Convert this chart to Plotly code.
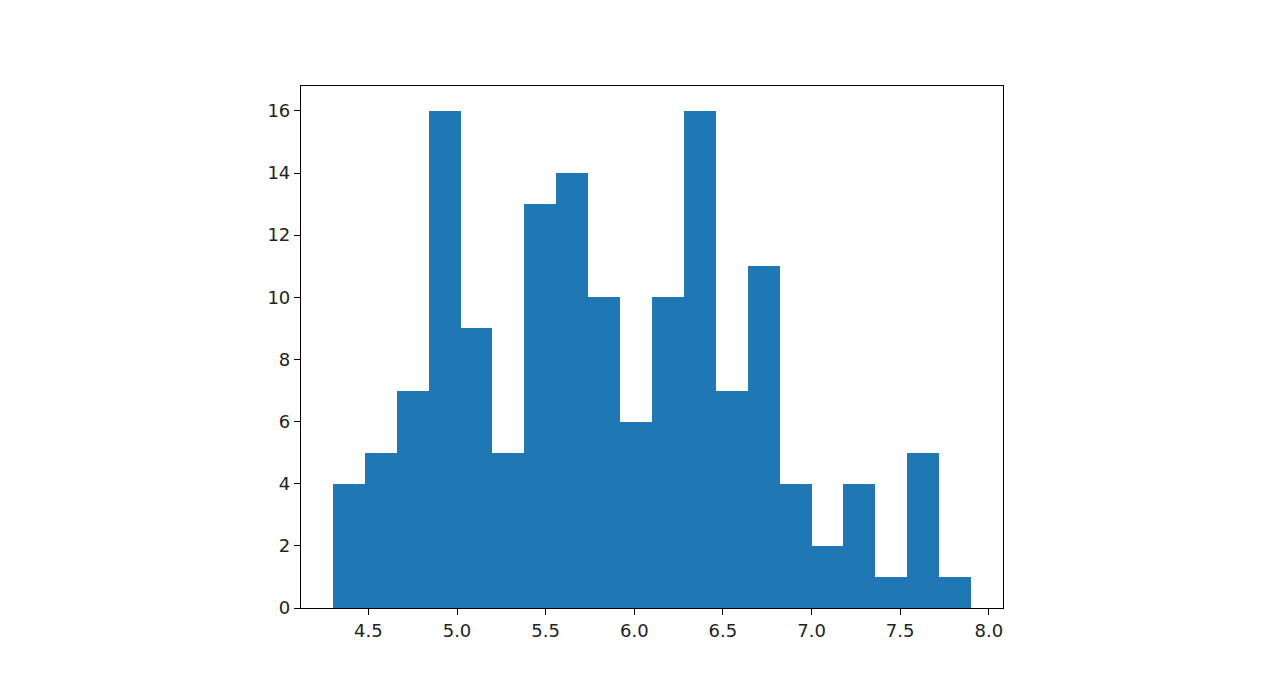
import numpy as np
import plotly.graph_objects as go

counts = [4, 5, 7, 16, 9, 5, 13, 14, 10, 6, 10, 16, 7, 11, 4, 2, 4, 1, 5, 1]
data_min = 4.3
data_max = 7.9
x_ticks = [4.5, 5.0, 5.5, 6.0, 6.5, 7.0, 7.5, 8.0]
y_ticks = [0, 2, 4, 6, 8, 10, 12, 14, 16]

n = len(counts)
edges = np.linspace(data_min, data_max, n + 1)
centers = (edges[:-1] + edges[1:]) / 2
width = edges[1] - edges[0]

fig = go.Figure(go.Bar(x=centers, y=counts, width=width,
                       marker=dict(color="#1f77b4", line=dict(width=0))))

span = data_max - data_min
axis_common = dict(showgrid=False, zeroline=False, showline=True, linecolor="black",
                   linewidth=1.2, mirror=True, ticks="outside", ticklen=6, tickwidth=1.2,
                   tickcolor="black", tickfont=dict(family="DejaVu Sans", size=18, color="#222"))
fig.update_layout(
    width=1281, height=681,
    margin=dict(l=293, r=286, t=78, b=81),
    plot_bgcolor="white", paper_bgcolor="white",
    bargap=0, showlegend=False,
    xaxis=dict(range=[data_min - 0.05 * span, data_max + 0.05 * span],
               tickvals=x_ticks, ticktext=[f"{v:.1f}" for v in x_ticks], **axis_common),
    yaxis=dict(range=[0, 16 * 1.05], tickvals=y_ticks, **axis_common),
)
fig.write_html("out.html")
